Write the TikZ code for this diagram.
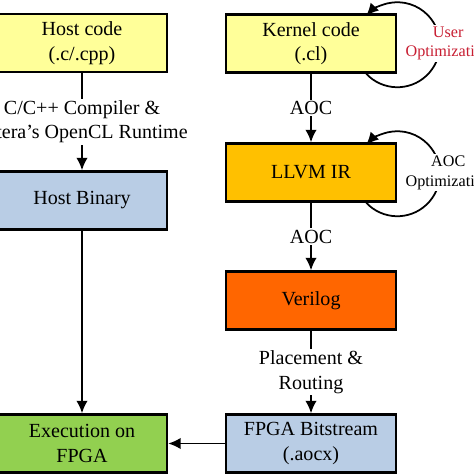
\documentclass[tikz,border=0pt]{standalone}
\usepackage{fontspec}
\setmainfont{Liberation Serif}
\usetikzlibrary{positioning,arrows.meta}
\definecolor{srcyellow}{RGB}{255,255,153}
\definecolor{llvmorange}{RGB}{255,192,0}
\definecolor{rtlorange}{RGB}{255,102,0}
\definecolor{binblue}{RGB}{185,205,229}
\definecolor{execgreen}{RGB}{146,208,80}
\definecolor{optred}{RGB}{200,30,50}
\tikzset{
  flowarrow/.style={-{Latex[length=2.5mm,width=2.3mm]}, line width=1pt},
  loopedge/.style={-{Latex[length=2.5mm,width=2.3mm]}, line width=1pt},
  stagenode/.style={draw, line width=1.4pt, minimum width=3.4cm, minimum height=1.16cm, align=center, inner sep=1pt},
  edgelabel/.style={fill=white, inner sep=1pt, align=center},
  optlabel/.style={font=\fontsize{9.2}{11.3}\selectfont, fill=white, inner sep=1pt, align=center}
}
\begin{document}
\begin{tikzpicture}[>=Latex, every node/.style={font=\fontsize{11.4}{14}\selectfont}]
      \useasboundingbox (0,0) rectangle (9.48,9.48);
      \clip (0,0) rectangle (9.48,9.48);
      % host side
      \node[stagenode, fill=srcyellow] (host) at (1.64,8.62) {Host code\\(.c/.cpp)};
      \node[stagenode, fill=binblue] (hostbin) at (1.64,5.47) {Host Binary};
      \node[stagenode, fill=execgreen] (exec) at (1.64,0.61) {Execution on\\FPGA};
      % kernel side
      \node[stagenode, fill=srcyellow] (kernel) at (6.22,8.61) {Kernel code\\(.cl)};
      \node[stagenode, fill=llvmorange] (llvm) at (6.22,6.03) {LLVM IR};
      \node[stagenode, fill=rtlorange] (verilog) at (6.22,3.47) {Verilog};
      \node[stagenode, fill=binblue] (bitstream) at (6.22,0.61) {FPGA Bitstream\\(.aocx)};
      \draw[flowarrow] (host) -- node[edgelabel] {C/C++ Compiler \&\\Altera's OpenCL Runtime} (hostbin);
      \draw[flowarrow] (hostbin) -- (exec);
      \draw[flowarrow] (kernel) -- node[edgelabel] {AOC} (llvm);
      \draw[flowarrow] (llvm) -- node[edgelabel] {AOC} (verilog);
      \draw[flowarrow] (verilog) -- node[edgelabel] {Placement \&\\Routing} (bitstream);
      \draw[flowarrow] (bitstream) -- (exec);
      % optimization loops
      \draw[loopedge] ([xshift=-0.62cm]kernel.south east) arc[start angle=-137, end angle=137, radius=0.85cm];
      \draw[loopedge] ([xshift=-0.62cm]llvm.south east) arc[start angle=-137, end angle=137, radius=0.85cm];
      \node[optlabel, text=optred] (useropt) at ([xshift=1.02cm]kernel.east) {User\\Optimization};
      \node[optlabel] (aocopt) at ([xshift=1.02cm]llvm.east) {AOC\\Optimization};
\end{tikzpicture}
\end{document}
